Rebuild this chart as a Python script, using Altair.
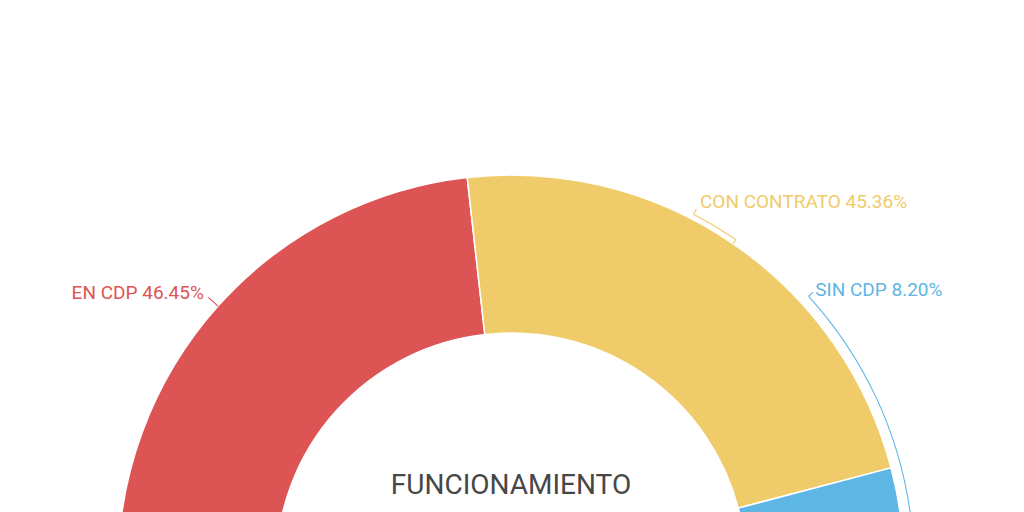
import math
import altair as alt
import pandas as pd

# ---- data ----
categories = ["EN CDP", "CON CONTRATO", "SIN CDP"]
values = [46.45, 45.36, 8.20]
colors = ["#DD5454", "#EFCB6A", "#5EB6E4"]
title_text = "FUNCIONAMIENTO"

# ---- layout (styling constants) ----
CX, CY = 503, 560          # centre of the half donut (chart pixels)
R_OUT, R_IN = 393, 235
LABEL_R = 412
label_deg = [None, 27.3, 47.6]   # label direction (deg from top); None = slice middle
line_r = [None, 398, 403]        # radius of bent leader line

TOTAL = sum(values)


def deg_to_val(d):
    return (d + 90.0) / 180.0 * TOTAL


theta_scale = alt.Scale(domain=[0, TOTAL], range=[-math.pi / 2, math.pi / 2])
color_scale = alt.Scale(domain=categories, range=colors)

slices = pd.DataFrame({"cat": categories, "value": values, "idx": list(range(len(values)))})

# label + leader rows derived from the values
lab_rows, seg_rows = [], []
cum = 0.0
for i, (c, v) in enumerate(zip(categories, values)):
    mid = cum + v / 2
    cum += v
    lt = mid if label_deg[i] is None else deg_to_val(label_deg[i])
    side = "right" if lt < TOTAL / 2 else "left"
    lab_rows.append({"cat": c, "text": f"{c} {v:.2f}%", "lt": lt, "side": side})
    if label_deg[i] is None:
        seg_rows.append({"cat": c, "t1": mid, "t2": mid, "r1": R_OUT, "r2": R_OUT + 13})
    else:
        lr = line_r[i]
        if lr > R_OUT + 2:
            seg_rows.append({"cat": c, "t1": mid, "t2": mid, "r1": R_OUT, "r2": lr})
        seg_rows.append({"cat": c, "t1": min(lt, mid), "t2": max(lt, mid), "r1": lr, "r2": lr})
        seg_rows.append({"cat": c, "t1": lt, "t2": lt, "r1": lr, "r2": lr + 6})
labels = pd.DataFrame(lab_rows)
segs = pd.DataFrame(seg_rows)

arcs = alt.Chart(slices).mark_arc(
    innerRadius=R_IN, outerRadius=R_OUT, stroke="white", strokeWidth=1.5
).encode(
    theta=alt.Theta("value:Q", scale=theta_scale, stack=True),
    order=alt.Order("idx:Q"),
    color=alt.Color("cat:N", scale=color_scale, legend=None),
    x=alt.value(CX),
    y=alt.value(CY),
)

leaders = alt.Chart(segs).mark_arc(filled=False, strokeWidth=1.1).encode(
    theta=alt.Theta("t1:Q", scale=theta_scale, stack=None),
    theta2="t2:Q",
    radius=alt.Radius("r2:Q", scale=None),
    radius2="r1:Q",
    color=alt.Color("cat:N", scale=color_scale, legend=None),
    x=alt.value(CX),
    y=alt.value(CY),
)


def label_layer(side):
    return alt.Chart(labels).transform_filter(
        alt.datum.side == side
    ).mark_text(
        radius=LABEL_R, align=side, baseline="middle", font="Roboto",
        fontSize=19
    ).encode(
        theta=alt.Theta("lt:Q", scale=theta_scale, stack=None),
        text="text:N",
        color=alt.Color("cat:N", scale=color_scale, legend=None),
        x=alt.value(CX),
        y=alt.value(CY),
    )


title = alt.Chart(pd.DataFrame({"t": [title_text]})).mark_text(
    font="Roboto", fontSize=28, color="#474747",
    baseline="middle", align="center"
).encode(text="t:N", x=alt.value(CX), y=alt.value(478))

chart = alt.layer(arcs, leaders, label_layer("right"), label_layer("left"), title).properties(
    width=1008, height=504, padding=0, autosize=alt.AutoSizeParams(type="none"), background="white"
).configure_view(stroke=None)

chart.save("out.html", embed_options={"renderer": "svg", "actions": False})
